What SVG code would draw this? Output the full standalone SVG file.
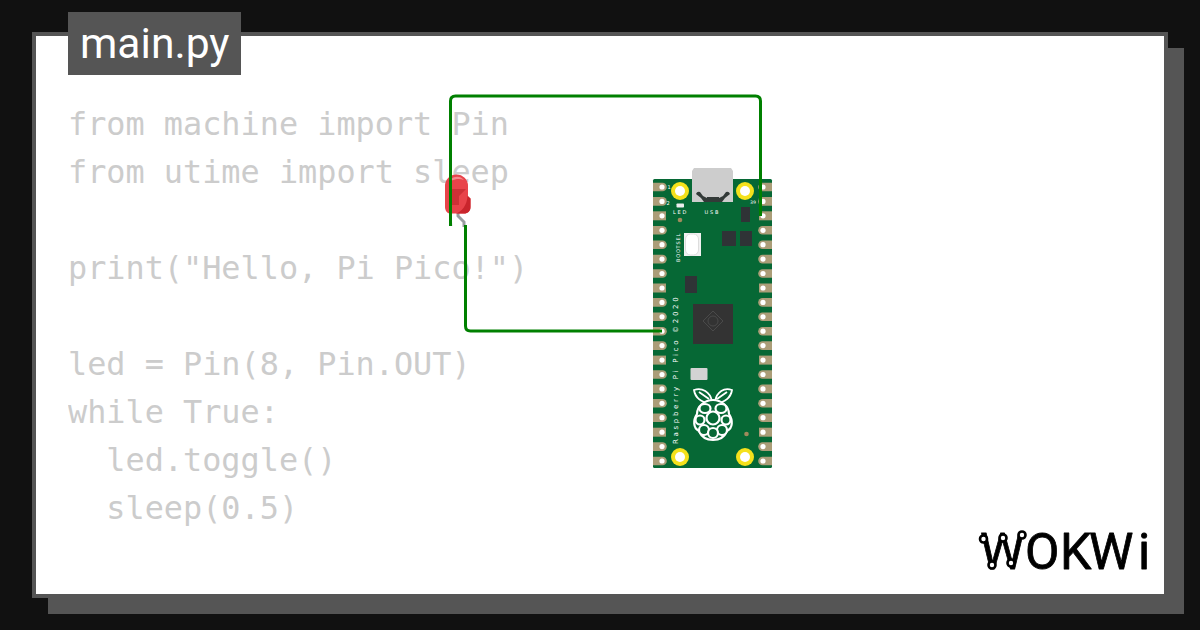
<svg xmlns="http://www.w3.org/2000/svg" width="1200" height="630" viewBox="0 0 1200 630">
<style>
.code{font-family:"DejaVu Sans Mono","Liberation Mono",monospace;font-size:31.85px;fill:#ccc;white-space:pre}
.silk{font-family:"DejaVu Sans","Liberation Sans",sans-serif;fill:#fff}
.wire{fill:none;stroke:#008000;stroke-width:3;stroke-linecap:butt}
.pad{fill:#ab9d78}
.hole{fill:#fff}
.chipd{fill:#2f3336}
.logo{fill:#066835;stroke:#fff;stroke-width:2.2}
.tip{fill:#fff;stroke:#000;stroke-width:2.6}
</style>
<defs>
<g id="pinL"><path class="pad" d="M0-4.300H9.500a4.300 4.300 0 0 1 0 8.600H0z"/><circle class="hole" cx="9" cy="0" r="2.600"/></g>
<g id="pinLs"><rect class="pad" x="0" y="-4.500" width="13" height="9"/><circle class="hole" cx="9" cy="0" r="2.600"/></g>
<g id="pinR"><path class="pad" d="M13-4.300H3.500a4.300 4.300 0 0 0 0 8.600H13z"/><circle class="hole" cx="4" cy="0" r="2.600"/></g>
<g id="pinRs"><rect class="pad" x="0" y="-4.500" width="13" height="9"/><circle class="hole" cx="4" cy="0" r="2.600"/></g>
<g id="mount"><circle r="9" fill="#f5e11c"/><circle r="5" fill="#fff"/></g>
</defs>
<rect width="1200" height="630" fill="#111"/>
<rect x="48" y="48" width="1136" height="566" fill="#555"/>
<rect x="34" y="34" width="1132" height="562" fill="#fff" stroke="#555" stroke-width="4"/>
<g id="tab" opacity="0.999">
<rect x="68" y="12" width="173" height="63" fill="#555"/>
<text x="80" y="58" font-family="Roboto,'Liberation Sans',sans-serif" font-size="42.600" fill="#fff">main.py</text>
</g>
<g id="code" opacity="0.999">
<text class="code" x="68" y="135">from machine import Pin</text>
<text class="code" x="68" y="183">from utime import sleep</text>
<text class="code" x="68" y="279">print("Hello, Pi Pico!")</text>
<text class="code" x="68" y="375">led = Pin(8, Pin.OUT)</text>
<text class="code" x="68" y="423">while True:</text>
<text class="code" x="68" y="471">  led.toggle()</text>
<text class="code" x="68" y="519">  sleep(0.5)</text>
</g>
<g id="led">
<path d="M450 210L451 226" stroke="#9a9da0" stroke-width="2.500" fill="none"/>
<path d="M458 211V216L464 222V227" stroke="#9a9da0" stroke-width="3" fill="none"/>
<path d="M445 207V186a11.500 11.500 0 0 1 23 0V196L470.500 198.500V207C470.500 211 468 213.500 464 213.500H450C447 213.500 445 210 445 207z" fill="#e8434a"/>
<path d="M467.500 196L470.500 198.500V207C470.500 211 468 213.500 464 213.500H456C461 212 467 206 467.500 196z" fill="#c9252c"/>
<path d="M451 179C455 175.500 461 176 464 180C460 178.500 456 178.500 451 181z" fill="#f4898c"/>
<path d="M452 189H466L459 196V205H452z" fill="#c42a30" opacity=".75"/>
</g>
<g id="pico">
<rect x="653" y="179" width="119" height="289" rx="1.500" fill="#066835"/>
<g id="pins">
<use href="#pinL" x="653" y="187"/><use href="#pinL" x="653" y="201.400"/><use href="#pinLs" x="653" y="215.800"/><use href="#pinL" x="653" y="230.300"/><use href="#pinL" x="653" y="244.700"/><use href="#pinL" x="653" y="259.100"/><use href="#pinL" x="653" y="273.500"/><use href="#pinLs" x="653" y="288"/><use href="#pinL" x="653" y="302.400"/><use href="#pinL" x="653" y="316.800"/><use href="#pinL" x="653" y="331.200"/><use href="#pinL" x="653" y="345.600"/><use href="#pinLs" x="653" y="360.100"/><use href="#pinL" x="653" y="374.500"/><use href="#pinL" x="653" y="388.900"/><use href="#pinL" x="653" y="403.300"/><use href="#pinL" x="653" y="417.700"/><use href="#pinLs" x="653" y="432.200"/><use href="#pinL" x="653" y="446.600"/><use href="#pinL" x="653" y="461"/>
<use href="#pinR" x="759" y="187"/><use href="#pinR" x="759" y="201.400"/><use href="#pinRs" x="759" y="215.800"/><use href="#pinR" x="759" y="230.300"/><use href="#pinR" x="759" y="244.700"/><use href="#pinR" x="759" y="259.100"/><use href="#pinR" x="759" y="273.500"/><use href="#pinRs" x="759" y="288"/><use href="#pinR" x="759" y="302.400"/><use href="#pinR" x="759" y="316.800"/><use href="#pinR" x="759" y="331.200"/><use href="#pinR" x="759" y="345.600"/><use href="#pinRs" x="759" y="360.100"/><use href="#pinR" x="759" y="374.500"/><use href="#pinR" x="759" y="388.900"/><use href="#pinR" x="759" y="403.300"/><use href="#pinR" x="759" y="417.700"/><use href="#pinRs" x="759" y="432.200"/><use href="#pinR" x="759" y="446.600"/><use href="#pinR" x="759" y="461"/>
</g>
<use href="#mount" x="680" y="191"/><use href="#mount" x="745" y="191"/><use href="#mount" x="680" y="457"/><use href="#mount" x="745" y="457"/>
<path d="M692 171L694 168H731L733 171V202H692z" fill="#cdcdcd"/>
<path d="M696 194Q697 191 700 192L703 196L707 198V197H719V198L723 196L726 192Q729 191 730 194L725 198L722 202H704L701 198z" fill="#333a38"/>
<rect x="676.500" y="203.500" width="7.500" height="4" rx=".8" fill="#eee"/>
<circle cx="680" cy="220" r="2.300" fill="#a08a5c"/>
<circle cx="746.500" cy="434" r="2.300" fill="#a08a5c"/>
<rect x="684" y="233" width="17" height="23" fill="#f1f1f1"/>
<rect x="685.500" y="234" width="13" height="21" rx="5" fill="#fff" stroke="#ddd"/>
<rect class="chipd" x="741" y="207" width="9" height="15"/>
<rect class="chipd" x="722" y="231" width="14" height="15"/>
<rect class="chipd" x="740" y="231" width="12" height="15"/>
<rect class="chipd" x="685" y="276" width="12" height="17"/>
<rect x="693" y="304" width="40" height="40" fill="#333"/>
<g fill="none" stroke="#4a4a4a" stroke-width="1"><path d="M713 311l10 10-10 10-10-10z"/><circle cx="713" cy="321" r="5"/></g>
<rect x="690.500" y="368" width="17" height="12" rx="1" fill="#d3d3d3"/>
<g id="raspberry">
<path fill="none" stroke="#fff" stroke-width="1.800" d="M710 403C701 403 695 397 694 390C702 387 710 392 712 401M715 401C717 392 724 387 732 390C731 397 725 403 716 403M699 392L709 399M727 392L717 399"/>
<path class="logo" d="M713 400C721 400 729 406 729 414C733 420 733 428 727 431C724 438 718 440 713 440C708 440 702 438 699 431C693 428 693 420 697 414C697 406 705 400 713 400z"/>
<ellipse class="logo" cx="705" cy="408.500" rx="5.500" ry="4.500"/><ellipse class="logo" cx="721" cy="408.500" rx="5.500" ry="4.500"/>
<circle class="logo" cx="713" cy="418" r="6.500"/>
<circle class="logo" cx="700" cy="420" r="4.500"/><circle class="logo" cx="726" cy="420" r="4.500"/>
<circle class="logo" cx="704" cy="430" r="5"/><circle class="logo" cx="722" cy="430" r="5"/>
<circle class="logo" cx="713" cy="433" r="5"/>
</g>
<text class="silk" x="667.500" y="189" font-size="5">1</text>
<text class="silk" x="666.500" y="204.500" font-size="5">2</text>
<text class="silk" x="750" y="204" font-size="4.600">39</text>
<text class="silk" x="673" y="214" font-size="5" letter-spacing="1.800">LED</text>
<text class="silk" x="704.500" y="214" font-size="5" letter-spacing="1.800">USB</text>
<text class="silk" transform="translate(680 262) rotate(-90)" font-size="5" letter-spacing=".8">BOOTSEL</text>
<text class="silk" transform="translate(678 444) rotate(-90)" font-size="7" letter-spacing="2.700">Raspberry Pi Pico ©2020</text>
</g>
<g id="connectors">
<path class="wire" d="M450.500 226V101Q450.500 96 455.500 96H755.500Q760.500 96 760.500 101V216"/>
<path class="wire" d="M465.500 225V326Q465.500 331 470.500 331H662"/>
</g>
<g id="wokwi">
<text x="980 1025 1060 1089 1138" y="569" font-family="Roboto,'DejaVu Sans',sans-serif" font-size="50" fill="#000" stroke="#000" stroke-width=".8" stroke-linejoin="round">WOKWi</text>
<circle class="tip" cx="983.500" cy="539" r="3.500"/><circle class="tip" cx="1003" cy="538" r="3.500"/><circle class="tip" cx="1022" cy="535" r="3.500"/><circle class="tip" cx="992" cy="565" r="3.500"/><circle class="tip" cx="1011" cy="563" r="3.500"/>
</g>
</svg>
